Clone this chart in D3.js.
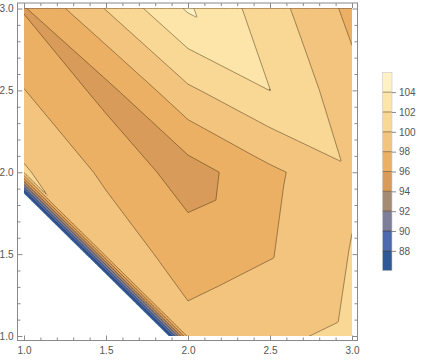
<!DOCTYPE html>
<html>
<head>
<meta charset="utf-8">
<script src="https://cdn.jsdelivr.net/npm/d3@7"></script>
<style>
  body { margin: 0; background: #fff; }
  text { font-family: "Liberation Sans", Arial, sans-serif; }
</style>
</head>
<body>
<div id="chart"></div>
<script>
// measured grid, one row per y value (bottom to top)
const xValues = [1.0, 1.5, 2.0, 2.5, 3.0];
const yValues = [1.0, 1.5, 2.0, 2.5, 3.0];
const zAtY10 = [30, 44, 98.75, 99.6, 100.43];
const zAtY15 = [45, 99.41, 97.0, 97.88, 100.1];
const zAtY20 = [100.24, 97.6, 95.03, 97.58, 99.7];
const zAtY25 = [98.05, 95.37, 99.65, 102.02, 98.67];
const zAtY30 = [95.85, 100.1, 104.25, 100.84, 97.45];

const contourLevels = [88, 90, 92, 94, 96, 98, 100, 102, 104];
const bandEdges = [86, 88, 90, 92, 94, 96, 98, 100, 102, 104, 106];
const bandColors = ["#2d5996", "#4b6ab0", "#7c7e9a", "#a58a74", "#d99b5a",
                    "#ecb064", "#f3c47e", "#f9d794", "#fde4a8", "#fef1c4"];
const axisTicks = [1.0, 1.5, 2.0, 2.5, 3.0];
const minorTicks = [1.1, 1.2, 1.3, 1.4, 1.6, 1.7, 1.8, 1.9, 2.1, 2.2, 2.3, 2.4, 2.6, 2.7, 2.8, 2.9];

const width = 422, height = 361;
const frame = {left: 17.5, right: 357.5, top: 3, bottom: 340.5};

const x = d3.scaleLinear().domain([1, 3]).range([24, 352]);
const y = d3.scaleLinear().domain([1, 3]).range([336, 8.5]);

const zRows = [zAtY10, zAtY15, zAtY20, zAtY25, zAtY30];

// linear interpolation on the triangulated grid (diagonals run top-left to bottom-right)
function zAt(px, py) {
  const dx = xValues[1] - xValues[0], dy = yValues[1] - yValues[0];
  let i = Math.min(Math.floor((px - xValues[0]) / dx), xValues.length - 2);
  let j = Math.min(Math.floor((py - yValues[0]) / dy), yValues.length - 2);
  i = Math.max(i, 0); j = Math.max(j, 0);
  const u = (px - xValues[i]) / dx, v = (py - yValues[j]) / dy;
  const z00 = zRows[j][i], z10 = zRows[j][i + 1], z01 = zRows[j + 1][i], z11 = zRows[j + 1][i + 1];
  if (u + v <= 1) return z00 + u * (z10 - z00) + v * (z01 - z00);
  return z11 + (1 - u) * (z01 - z11) + (1 - v) * (z10 - z11);
}

const N = 201, step = 2 / (N - 1);
const values = new Array(N * N);
for (let j = 0; j < N; j++) {
  for (let i = 0; i < N; i++) {
    values[i + j * N] = zAt(1 + i * step, 1 + j * step);
  }
}

const svg = d3.select("#chart").append("svg")
  .attr("width", width).attr("height", height);

svg.append("clipPath").attr("id", "plotClip")
  .append("rect")
  .attr("x", x(1)).attr("y", y(3))
  .attr("width", x(3) - x(1)).attr("height", y(1) - y(3));

const proj = d3.geoTransform({
  point: function(cx, cy) {
    this.stream.point(x(1 + (cx - 0.5) * step), y(1 + (cy - 0.5) * step));
  }
});
const path = d3.geoPath(proj);

const contours = d3.contours().size([N, N]).thresholds(bandEdges.slice(0, -1))(values);

const plot = svg.append("g").attr("clip-path", "url(#plotClip)");

plot.selectAll("path.band")
  .data(contours)
  .enter().append("path")
  .attr("class", "band")
  .attr("d", path)
  .attr("fill", (d, i) => bandColors[i])
  .attr("stroke", (d, i) => bandColors[i])
  .attr("stroke-width", 0.3);

plot.selectAll("path.line")
  .data(contours.filter(c => contourLevels.includes(c.value)))
  .enter().append("path")
  .attr("class", "line")
  .attr("d", path)
  .attr("fill", "none")
  .attr("stroke", "#2a1a00")
  .attr("stroke-opacity", 0.55)
  .attr("stroke-width", 0.8);

// frame
svg.append("rect")
  .attr("x", frame.left).attr("y", frame.top)
  .attr("width", frame.right - frame.left).attr("height", frame.bottom - frame.top)
  .attr("fill", "none").attr("stroke", "#8a8a8a").attr("stroke-width", 1);

function styleAxis(g) {
  g.select(".domain").remove();
  g.selectAll("line").attr("stroke", "#8a8a8a");
  g.selectAll("text").attr("fill", "#555").style("font-size", "10px");
}

svg.append("g").attr("transform", "translate(0," + frame.bottom + ")")
  .call(d3.axisBottom(x).tickValues(axisTicks).tickSize(-5).tickPadding(6).tickFormat(d3.format(".1f")))
  .call(styleAxis);
svg.append("g").attr("transform", "translate(0," + frame.bottom + ")")
  .call(d3.axisBottom(x).tickValues(minorTicks).tickSize(-3).tickFormat(""))
  .call(styleAxis);
svg.append("g").attr("transform", "translate(0," + frame.top + ")")
  .call(d3.axisTop(x).tickValues(axisTicks).tickSize(-5).tickFormat(""))
  .call(styleAxis);
svg.append("g").attr("transform", "translate(0," + frame.top + ")")
  .call(d3.axisTop(x).tickValues(minorTicks).tickSize(-3).tickFormat(""))
  .call(styleAxis);

svg.append("g").attr("transform", "translate(" + frame.left + ",0)")
  .call(d3.axisLeft(y).tickValues(axisTicks).tickSize(-5).tickPadding(4).tickFormat(d3.format(".1f")))
  .call(styleAxis);
svg.append("g").attr("transform", "translate(" + frame.left + ",0)")
  .call(d3.axisLeft(y).tickValues(minorTicks).tickSize(-3).tickFormat(""))
  .call(styleAxis);
svg.append("g").attr("transform", "translate(" + frame.right + ",0)")
  .call(d3.axisRight(y).tickValues(axisTicks).tickSize(-5).tickFormat(""))
  .call(styleAxis);
svg.append("g").attr("transform", "translate(" + frame.right + ",0)")
  .call(d3.axisRight(y).tickValues(minorTicks).tickSize(-3).tickFormat(""))
  .call(styleAxis);

// legend
const legendX = 382.5, legendW = 9.5;
const ly = d3.scaleLinear().domain([86, 106]).range([270.7, 72.3]);
const legend = svg.append("g");

legend.selectAll("rect.swatch")
  .data(bandColors)
  .enter().append("rect")
  .attr("class", "swatch")
  .attr("x", legendX)
  .attr("y", (d, i) => ly(bandEdges[i + 1]))
  .attr("width", legendW)
  .attr("height", (d, i) => ly(bandEdges[i]) - ly(bandEdges[i + 1]))
  .attr("fill", d => d);

legend.selectAll("line.level")
  .data(contourLevels)
  .enter().append("line")
  .attr("class", "level")
  .attr("x1", legendX).attr("x2", legendX + legendW)
  .attr("y1", d => ly(d)).attr("y2", d => ly(d))
  .attr("stroke", "#2a1a00").attr("stroke-opacity", 0.55).attr("stroke-width", 0.8);

legend.append("rect")
  .attr("x", legendX).attr("y", ly(106))
  .attr("width", legendW).attr("height", ly(86) - ly(106))
  .attr("fill", "none").attr("stroke", "#c8c8c8").attr("stroke-width", 0.6);

legend.append("g").attr("transform", "translate(" + (legendX + legendW) + ",0)")
  .call(d3.axisRight(ly).tickValues(contourLevels).tickSize(4).tickPadding(3))
  .call(styleAxis);
</script>
</body>
</html>
